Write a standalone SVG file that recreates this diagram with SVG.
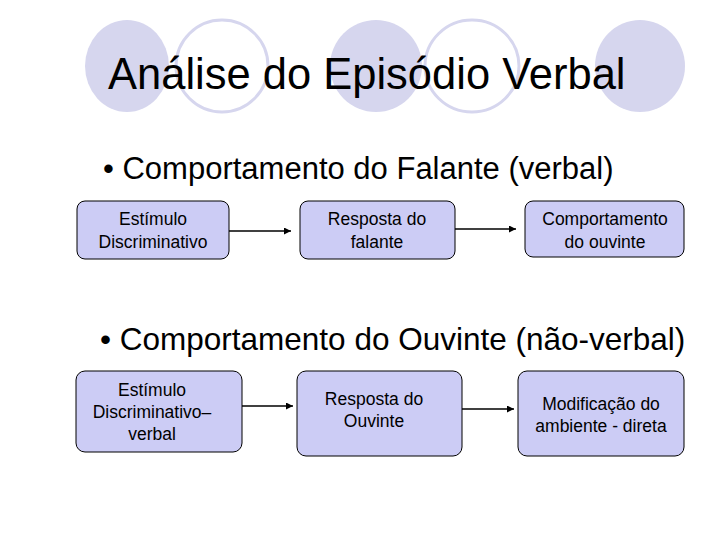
<svg xmlns="http://www.w3.org/2000/svg" width="720" height="540" viewBox="0 0 720 540">
<style>
.c{fill:#d6d6ee}.o{fill:none;stroke:#d6d6ee;stroke-width:3}
.b{fill:#ccccf5;stroke:#000;stroke-width:1}
.t{font-family:"Liberation Sans",Arial,sans-serif;fill:#000;text-anchor:middle;font-size:17.5px}
.h{font-family:"Liberation Sans",Arial,sans-serif;fill:#000}
.a{stroke:#000;stroke-width:1.5;marker-end:url(#m)}
</style>
<defs><marker id="m" viewBox="0 0 10 10" refX="10" refY="5" markerWidth="7" markerHeight="7" markerUnits="userSpaceOnUse" orient="auto"><path d="M0,0L10,5L0,10z"/></marker></defs>
<rect width="720" height="540" fill="#fff"/>
<g id="deco">
<ellipse class="c" cx="127" cy="66" rx="42" ry="46"/>
<ellipse class="o" cx="222" cy="66" rx="46" ry="46"/>
<ellipse class="c" cx="376" cy="66" rx="46" ry="46"/>
<ellipse class="o" cx="472" cy="66" rx="47" ry="46"/>
<ellipse class="c" cx="640" cy="66" rx="45" ry="46"/>
</g>
<text class="h" x="108" y="89" font-size="43.5">Análise do Episódio Verbal</text>
<text class="h" x="103" y="179" font-size="31">• Comportamento do Falante (verbal)</text>
<text class="h" x="100" y="350" font-size="31.5">• Comportamento do Ouvinte (não-verbal)</text>
<g id="n1"><rect class="b" x="77" y="201" width="152" height="58" rx="8"/><text class="t" x="153" y="225">Estímulo</text><text class="t" x="153" y="248">Discriminativo</text></g>
<g id="n2"><rect class="b" x="300" y="201" width="155" height="58" rx="8"/><text class="t" x="377" y="225">Resposta do</text><text class="t" x="377" y="248">falante</text></g>
<g id="n3"><rect class="b" x="525" y="201" width="159" height="56" rx="8"/><text class="t" x="605" y="225">Comportamento</text><text class="t" x="605" y="248">do ouvinte</text></g>
<g id="n4"><rect class="b" x="76" y="371" width="166" height="81" rx="9"/><text class="t" x="152" y="396">Estímulo</text><text class="t" x="152" y="418">Discriminativo–</text><text class="t" x="152" y="440">verbal</text></g>
<g id="n5"><rect class="b" x="297" y="371" width="165" height="85" rx="9"/><text class="t" x="374" y="405">Resposta do</text><text class="t" x="374" y="427">Ouvinte</text></g>
<g id="n6"><rect class="b" x="518" y="371" width="166" height="85" rx="9"/><text class="t" x="601" y="410">Modificação do</text><text class="t" x="601" y="432">ambiente - direta</text></g>
<g id="connectors">
<line class="a" x1="229" y1="231" x2="291" y2="231"/>
<line class="a" x1="455" y1="229" x2="516" y2="229"/>
<line class="a" x1="242" y1="406" x2="293" y2="406"/>
<line class="a" x1="462" y1="409" x2="514" y2="409"/>
</g>
</svg>
